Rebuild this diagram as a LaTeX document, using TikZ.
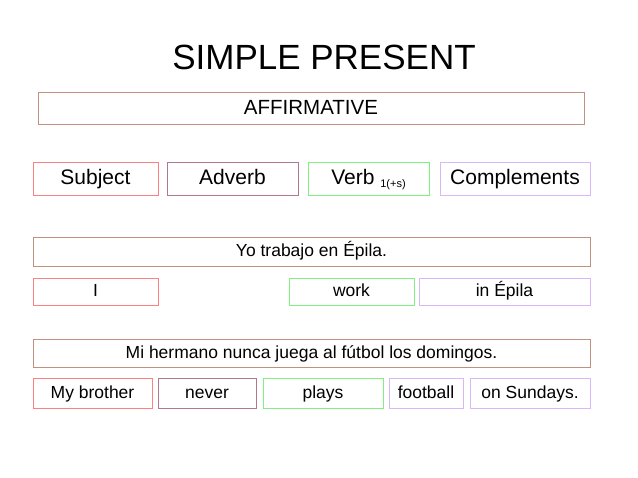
\documentclass[tikz,border=0pt]{standalone}
\usepackage{fontspec}
\setmainfont{Liberation Sans}
\definecolor{cred}{HTML}{FF8080}
\definecolor{cmauve}{HTML}{B07890}
\definecolor{cgreen}{HTML}{80F080}
\definecolor{cpurple}{HTML}{D8B8F8}
\definecolor{cbrown}{HTML}{C09080}
\begin{document}
\begin{tikzpicture}[x=1pt,y=-1pt,
  bx/.style={draw=#1,line width=1pt,inner sep=0pt},
  big/.style={font=\fontsize{21}{24}\selectfont,text height=15pt,text depth=4.4pt},
  small/.style={font=\fontsize{17.5}{20}\selectfont,text height=12.6pt,text depth=3.7pt}]
\useasboundingbox (0,0) rectangle (638,478);
\node (title) at (324,57) {\fontsize{35}{38}\selectfont SIMPLE PRESENT};
\node[bx=cbrown,minimum width=546,minimum height=32,font=\fontsize{20.5}{23}\selectfont,text height=14.7pt,text depth=4.3pt] (aff) at (311,109) {AFFIRMATIVE};
\node[bx=cred,minimum width=125,minimum height=33,big] (subj) at (95.5,179.5) {Subject};
\node[bx=cmauve,minimum width=131,minimum height=33,big] (adv) at (232.5,179.5) {Adverb};
\node[bx=cgreen,minimum width=121,minimum height=33,big] (verb) at (368.5,179.5) {Verb \fontsize{11}{12}\selectfont\raisebox{-3pt}{1(+s)}};
\node[bx=cpurple,minimum width=150,minimum height=33,big] (comp) at (515,179.5) {Complements};
\node[bx=cbrown,minimum width=557,minimum height=29,small] (yo) at (311.5,252.5) {Yo trabajo en Épila.};
\node[bx=cred,minimum width=125,minimum height=27,small] (i) at (95.5,292.5) {I};
\node[bx=cgreen,minimum width=125,minimum height=27,small] (work) at (351.5,292.5) {work};
\node[bx=cpurple,minimum width=171,minimum height=27,small] (inep) at (504.5,292.5) {in Épila};
\node[bx=cbrown,minimum width=557,minimum height=28,small] (mi) at (311.5,354) {Mi hermano nunca juega al fútbol los domingos.};
\node[bx=cred,minimum width=119,minimum height=30,small] (myb) at (92.5,394) {My brother};
\node[bx=cmauve,minimum width=98,minimum height=30,small] (never) at (207,394) {never};
\node[bx=cgreen,minimum width=120,minimum height=30,small] (plays) at (323,394) {plays};
\node[bx=cpurple,minimum width=74,minimum height=30,small] (foot) at (426,394) {football};
\node[bx=cpurple,minimum width=120,minimum height=30,small] (sun) at (530,394) {on Sundays.};
\end{tikzpicture}
\end{document}
